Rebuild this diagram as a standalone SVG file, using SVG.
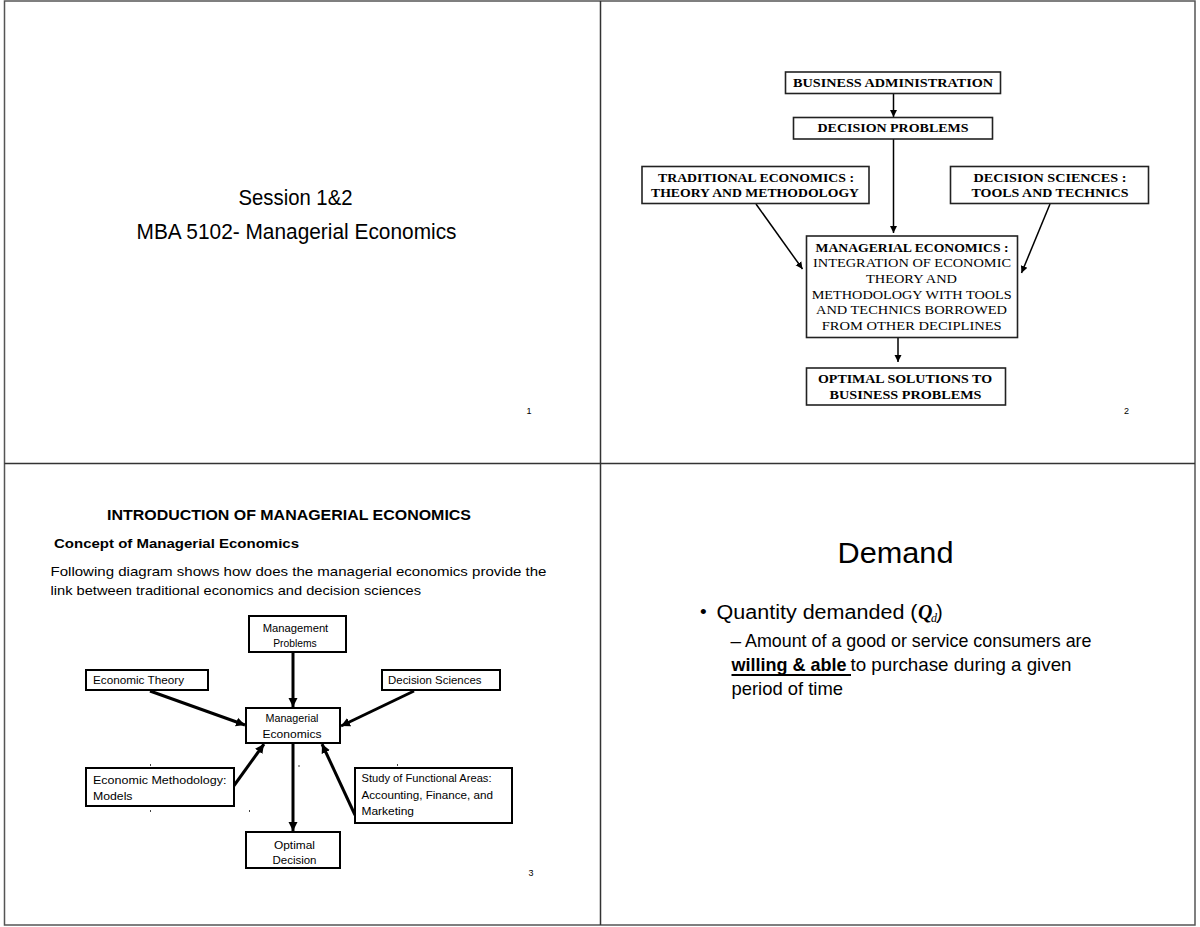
<svg xmlns="http://www.w3.org/2000/svg" width="1200" height="927" viewBox="0 0 1200 927">
<style>
.frame{fill:none;stroke:#555;stroke-width:1.5}
.div{stroke:#333;stroke-width:1.5}
.b2{fill:#fff;stroke:#222;stroke-width:1.6}
.b3{fill:#fff;stroke:#000;stroke-width:2}
.sb{font-family:"Liberation Serif",serif;font-weight:bold;font-size:12px;fill:#000}
.sr{font-family:"Liberation Serif",serif;font-size:12px;fill:#000}
.c{text-anchor:middle}
.cal{font-family:"Liberation Sans",Arial,sans-serif;fill:#000}
.d3{font-family:"Liberation Sans",Arial,sans-serif;font-size:11px;fill:#000}
.pn{font-family:"Liberation Sans",Arial,sans-serif;font-size:9px;fill:#000;text-anchor:middle}
.a2{stroke:#000;stroke-width:1.5;fill:none;marker-end:url(#ah2)}
.a3{stroke:#000;stroke-width:3;fill:none;marker-end:url(#ah3)}
.tick{stroke:#444;stroke-width:1}
</style>
<defs>
<marker id="ah2" markerUnits="userSpaceOnUse" markerWidth="8" markerHeight="8" refX="7" refY="4" orient="auto"><path d="M0,0.5 L7,4 L0,7.5 Z" fill="#000"/></marker>
<marker id="ah3" markerUnits="userSpaceOnUse" markerWidth="10" markerHeight="10" refX="9" refY="5" orient="auto"><path d="M0,0.5 L9,5 L0,9.5 Z" fill="#000"/></marker>
</defs>
<rect width="1200" height="927" fill="#fff"/>
<g id="frame">
<rect class="frame" x="4.5" y="1" width="1190.5" height="924"/>
<line class="div" x1="600.5" y1="1" x2="600.5" y2="925"/>
<line class="div" x1="4.5" y1="463.5" x2="1195" y2="463.5" stroke="#666"/>
</g>

<!-- Slide 1 -->
<g id="slide1">
<text class="cal c" x="295.5" y="205" font-size="21.5" textLength="114" lengthAdjust="spacingAndGlyphs">Session 1&amp;2</text>
<text class="cal c" x="296.5" y="239" font-size="21.5" textLength="320" lengthAdjust="spacingAndGlyphs">MBA 5102- Managerial Economics</text>
<text class="pn" x="529" y="414">1</text>
</g>

<!-- Slide 2 -->
<g id="connectors2">
<line class="a2" x1="893.5" y1="94" x2="893.5" y2="117"/>
<line class="a2" x1="893.5" y1="139" x2="893.5" y2="233"/>
<line class="a2" x1="756" y1="204" x2="802.5" y2="269"/>
<line class="a2" x1="1050" y1="204" x2="1021.5" y2="273"/>
<line class="a2" x1="898" y1="338" x2="898" y2="362"/>
</g>
<g id="n-ba">
<rect class="b2" x="785.5" y="72" width="215" height="21.5"/>
<text class="sb c" x="893" y="87" textLength="200" lengthAdjust="spacingAndGlyphs">BUSINESS ADMINISTRATION</text>
</g>
<g id="n-dp">
<rect class="b2" x="793.5" y="117.5" width="199" height="21.5"/>
<text class="sb c" x="893" y="132" textLength="151" lengthAdjust="spacingAndGlyphs">DECISION PROBLEMS</text>
</g>
<g id="n-te">
<rect class="b2" x="642" y="166.5" width="227" height="37"/>
<text class="sb c" x="756" y="182" textLength="196" lengthAdjust="spacingAndGlyphs">TRADITIONAL ECONOMICS :</text>
<text class="sb c" x="755" y="197" textLength="208" lengthAdjust="spacingAndGlyphs">THEORY AND METHODOLOGY</text>
</g>
<g id="n-ds">
<rect class="b2" x="950.5" y="166.5" width="198" height="37"/>
<text class="sb c" x="1050" y="182" textLength="153" lengthAdjust="spacingAndGlyphs">DECISION SCIENCES :</text>
<text class="sb c" x="1050" y="197" textLength="157" lengthAdjust="spacingAndGlyphs">TOOLS AND TECHNICS</text>
</g>
<g id="n-me2">
<rect class="b2" x="806.5" y="236" width="211" height="101.5"/>
<text class="sb c" x="912" y="252" textLength="193" lengthAdjust="spacingAndGlyphs">MANAGERIAL ECONOMICS :</text>
<text class="sr c" x="912" y="267" textLength="198" lengthAdjust="spacingAndGlyphs">INTEGRATION OF ECONOMIC</text>
<text class="sr c" x="911.5" y="283" textLength="91" lengthAdjust="spacingAndGlyphs">THEORY AND</text>
<text class="sr c" x="911.7" y="298.5" textLength="200" lengthAdjust="spacingAndGlyphs">METHODOLOGY WITH TOOLS</text>
<text class="sr c" x="911.5" y="313.5" textLength="191" lengthAdjust="spacingAndGlyphs">AND TECHNICS BORROWED</text>
<text class="sr c" x="911.7" y="330" textLength="180" lengthAdjust="spacingAndGlyphs">FROM OTHER DECIPLINES</text>
</g>
<g id="n-opt2">
<rect class="b2" x="806.5" y="368" width="199" height="37"/>
<text class="sb c" x="905" y="383" textLength="174" lengthAdjust="spacingAndGlyphs">OPTIMAL SOLUTIONS TO</text>
<text class="sb c" x="905.5" y="398.5" textLength="152" lengthAdjust="spacingAndGlyphs">BUSINESS PROBLEMS</text>
</g>
<text class="pn" x="1126.5" y="414">2</text>

<!-- Slide 3 -->
<g id="slide3-text">
<text class="cal c" x="289" y="519.5" font-size="14" font-weight="bold" textLength="364" lengthAdjust="spacingAndGlyphs">INTRODUCTION OF MANAGERIAL ECONOMICS</text>
<text class="cal" x="54" y="547.5" font-size="13" font-weight="bold" textLength="245" lengthAdjust="spacingAndGlyphs">Concept of Managerial Economics</text>
<text class="cal" x="50.5" y="576" font-size="13.5" textLength="496" lengthAdjust="spacingAndGlyphs">Following diagram shows how does the managerial economics provide the</text>
<text class="cal" x="50.5" y="595" font-size="13.5" textLength="370.5" lengthAdjust="spacingAndGlyphs">link between traditional economics and decision sciences</text>
<text class="pn" x="531" y="876">3</text>
</g>
<g id="connectors3">
<line class="a3" x1="293" y1="652" x2="293" y2="707"/>
<line class="a3" x1="150" y1="691" x2="245" y2="725"/>
<line class="a3" x1="414" y1="691" x2="341" y2="726"/>
<line class="a3" x1="233" y1="787" x2="264" y2="744"/>
<line class="a3" x1="355" y1="815" x2="322" y2="744"/>
<line class="a3" x1="293" y1="743" x2="293" y2="831"/>
</g>
<g id="ticks3">
<line class="tick" x1="150.5" y1="764" x2="150.5" y2="766"/>
<line class="tick" x1="150.5" y1="810" x2="150.5" y2="812"/>
<line class="tick" x1="249.5" y1="810" x2="249.5" y2="812"/>
<line class="tick" x1="299" y1="765" x2="299" y2="767"/>
<line class="tick" x1="397.5" y1="764" x2="397.5" y2="766"/>
</g>
<g id="n-mp">
<rect class="b3" x="249" y="616" width="97" height="36"/>
<text class="d3 c" x="295.5" y="631.5" textLength="65.5" lengthAdjust="spacingAndGlyphs">Management</text>
<text class="d3 c" x="295" y="646.5" textLength="43.5" lengthAdjust="spacingAndGlyphs">Problems</text>
</g>
<g id="n-et">
<rect class="b3" x="86" y="670" width="122" height="20"/>
<text class="d3" x="93" y="683.5" textLength="91" lengthAdjust="spacingAndGlyphs">Economic Theory</text>
</g>
<g id="n-dsc">
<rect class="b3" x="382" y="670" width="118" height="20"/>
<text class="d3" x="388" y="683.5" textLength="93.5" lengthAdjust="spacingAndGlyphs">Decision Sciences</text>
</g>
<g id="n-me3">
<rect class="b3" x="246" y="708" width="94" height="35"/>
<text class="d3 c" x="292" y="722" textLength="53" lengthAdjust="spacingAndGlyphs">Managerial</text>
<text class="d3 c" x="292" y="738" textLength="59" lengthAdjust="spacingAndGlyphs">Economics</text>
</g>
<g id="n-em">
<rect class="b3" x="86" y="768" width="148" height="38"/>
<text class="d3" x="93" y="783.5" textLength="133.5" lengthAdjust="spacingAndGlyphs">Economic Methodology:</text>
<text class="d3" x="93" y="799.5" textLength="39.5" lengthAdjust="spacingAndGlyphs">Models</text>
</g>
<g id="n-sfa">
<rect class="b3" x="355" y="768" width="157" height="55"/>
<text class="d3" x="361.5" y="782" textLength="130" lengthAdjust="spacingAndGlyphs">Study of Functional Areas:</text>
<text class="d3" x="361.5" y="798.5" textLength="131.5" lengthAdjust="spacingAndGlyphs">Accounting, Finance, and</text>
<text class="d3" x="361.5" y="815" textLength="52.5" lengthAdjust="spacingAndGlyphs">Marketing</text>
</g>
<g id="n-od">
<rect class="b3" x="246" y="832" width="94" height="36"/>
<text class="d3 c" x="294.5" y="848.5" textLength="41" lengthAdjust="spacingAndGlyphs">Optimal</text>
<text class="d3 c" x="294.5" y="863.5" textLength="44" lengthAdjust="spacingAndGlyphs">Decision</text>
</g>

<!-- Slide 4 -->
<g id="slide4">
<text class="cal c" x="895.5" y="563" font-size="30" textLength="116" lengthAdjust="spacingAndGlyphs">Demand</text>
<text class="cal" x="700" y="618" font-size="19">•</text>
<text class="cal" x="716.5" y="619" font-size="20" textLength="201" lengthAdjust="spacingAndGlyphs">Quantity demanded (</text>
<text x="918" y="619" font-family="Liberation Serif,serif" font-style="italic" font-weight="bold" font-size="20" fill="#000">Q</text>
<text x="931" y="622" font-family="Liberation Serif,serif" font-style="italic" font-size="12" fill="#000">d</text>
<text class="cal" x="936" y="619" font-size="20">)</text>
<text class="cal" x="730.5" y="647" font-size="19">–</text>
<text class="cal" x="745" y="647" font-size="19" textLength="346.5" lengthAdjust="spacingAndGlyphs">Amount of a good or service consumers are</text>
<text class="cal" x="731.5" y="671" font-size="19" font-weight="bold" textLength="115" lengthAdjust="spacingAndGlyphs">willing &amp; able</text>
<line x1="731.5" y1="675" x2="851" y2="675" stroke="#000" stroke-width="1.8"/>
<text class="cal" x="850.5" y="671" font-size="19" textLength="221" lengthAdjust="spacingAndGlyphs">to purchase during a given</text>
<text class="cal" x="731.5" y="695" font-size="19" textLength="111.5" lengthAdjust="spacingAndGlyphs">period of time</text>
</g>
</svg>
